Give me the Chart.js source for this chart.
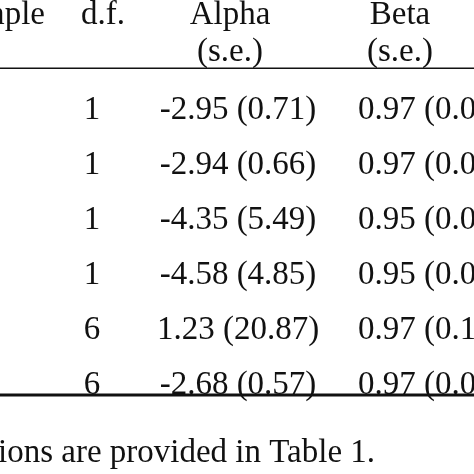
<!DOCTYPE html>
<html lang="en">
<head>
<meta charset="UTF-8">
<title>Table</title>
<script src="https://cdn.jsdelivr.net/npm/chart.js"></script>
<style>
    html, body { margin: 0; padding: 0; background: #fff; }
    #wrap { width: 474px; height: 474px; }
</style>
</head>
<body>
<div id="wrap"><canvas id="tbl"></canvas></div>
<script>
const headers = ['mple', 'd.f.', 'Alpha', 'Beta'];
const subHeaders = ['', '', '(s.e.)', '(s.e.)'];
const df = ['1', '1', '1', '1', '6', '6'];
const alpha = ['-2.95 (0.71)', '-2.94 (0.66)', '-4.35 (5.49)', '-4.58 (4.85)', '1.23 (20.87)', '-2.68 (0.57)'];
const beta = ['0.97 (0.0', '0.97 (0.0', '0.95 (0.0', '0.95 (0.0', '0.97 (0.1', '0.97 (0.0'];
const footnote = 'ions are provided in Table 1.';

// column centres (x units) ; rows are row indices on y
const colX = [12, 103, 230, 400];

const textPlugin = {
    id: 'tableText',
    afterDraw(chart) {
        const ctx = chart.ctx, xs = chart.scales.x, ys = chart.scales.y;
        ctx.save();
        ctx.fillStyle = '#111';
        ctx.font = '33px "Liberation Serif", "Times New Roman", serif';
        ctx.textBaseline = 'middle';
        ctx.textAlign = 'center';
        headers.forEach((h, i) => ctx.fillText(h, xs.getPixelForValue(colX[i]), ys.getPixelForValue(-1.72)));
        subHeaders.forEach((h, i) => ctx.fillText(h, xs.getPixelForValue(colX[i]), ys.getPixelForValue(-1.04)));
        df.forEach((v, i) => ctx.fillText(v, xs.getPixelForValue(92), ys.getPixelForValue(i)));
        alpha.forEach((v, i) => ctx.fillText(v, xs.getPixelForValue(238), ys.getPixelForValue(i)));
        ctx.textAlign = 'left';
        beta.forEach((v, i) => ctx.fillText(v, xs.getPixelForValue(358), ys.getPixelForValue(i)));
        ctx.fillText(footnote, xs.getPixelForValue(-2), ys.getPixelForValue(6.25));
        // rules
        ctx.strokeStyle = '#111';
        [[-0.76, 1.5], [5.18, 3]].forEach(([r, w]) => {
            ctx.lineWidth = w;
            ctx.beginPath();
            ctx.moveTo(xs.left, ys.getPixelForValue(r));
            ctx.lineTo(xs.right, ys.getPixelForValue(r));
            ctx.stroke();
        });
        ctx.restore();
    }
};

new Chart(document.getElementById('tbl'), {
    type: 'scatter',
    data: { datasets: [{ data: [], pointRadius: 0 }] },
    options: {
        responsive: true,
        maintainAspectRatio: false,
        animation: false,
        layout: { padding: 0 },
        plugins: { legend: { display: false }, tooltip: { enabled: false } },
        scales: {
            x: { type: 'linear', min: 0, max: 474, display: false },
            y: { type: 'linear', min: -2, max: 6.618, reverse: true, display: false }
        }
    },
    plugins: [textPlugin]
});
</script>
</body>
</html>
